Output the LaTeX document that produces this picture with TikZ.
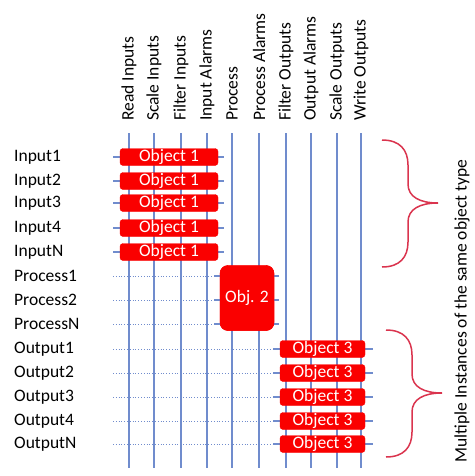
\documentclass[tikz,border=0pt]{standalone}
\usepackage{fontspec}
\setmainfont{Carlito}
\begin{document}
\begin{tikzpicture}[x=1pt,y=-1pt,
  lbl/.style={inner sep=0pt,font=\fontsize{17.5}{21}\selectfont},
  gridv/.style={draw=gridblue,line width=1.2pt},
  gridh/.style={draw=gridblue,line width=0.8pt,dotted},
  stub/.style={draw=gridblue,line width=1.2pt},
  objbox/.style={fill=objred,draw=objred,rounded corners=3pt,text=white,inner sep=0pt,
    font=\fontsize{17.5}{21}\selectfont},
  bracestyle/.style={draw=bracered,line width=1.5pt}]
\definecolor{gridblue}{RGB}{112,140,205}
\definecolor{objred}{RGB}{250,0,0}
\definecolor{bracered}{RGB}{218,52,78}
\useasboundingbox (0,0) rectangle (474,476);
% columns
\foreach \x/\t [count=\i] in {129/Read Inputs,154/Scale Inputs,181/Filter Inputs,207/Input Alarms,232/Process,259/Process Alarms,286/Filter Outputs,311/Output Alarms,337/Scale Outputs,361/Write Outputs}{
  \node[lbl,rotate=90,anchor=west] (h\i) at (\x,121) {\t};
  \coordinate (vt\i) at (\x,133);
  \coordinate (vb\i) at (\x,468);
  \draw[gridv] (vt\i) -- (vb\i);
}
% input rows
\foreach \y/\t [count=\i] in {157/Input1,181/Input2,203/Input3,228/Input4,252/InputN}{
  \node[lbl,anchor=west] (in\i) at (14,\y) {\t};
  \coordinate (inl\i) at (113,\y);
  \coordinate (inr\i) at (224,\y);
  \draw[stub] (inl\i) -- (inr\i);
  \node[objbox,minimum width=98pt,minimum height=17pt] (o1\i) at (169,\y) {Object 1};
}
% process rows
\node[objbox,rounded corners=8pt,minimum width=54pt,minimum height=65pt] (o2) at (247,298) {Obj. 2};
\foreach \y/\t [count=\i] in {276/Process1,300/Process2,324/ProcessN}{
  \node[lbl,anchor=west] (pr\i) at (14,\y) {\t};
  \coordinate (prl\i) at (113,\y);
  \coordinate (prm\i) at (214,\y);
  \coordinate (prr\i) at (279,\y);
  \draw[gridh] (prl\i) -- (prm\i);
  \draw[stub] (prm\i) -- (o2.west |- prm\i);
  \draw[stub] (o2.east |- prr\i) -- (prr\i);
}
\node[objbox,rounded corners=8pt,minimum width=54pt,minimum height=65pt] at (247,298) {Obj. 2};
% output rows
\foreach \y/\t [count=\i] in {349/Output1,373/Output2,397/Output3,421/Output4,444/OutputN}{
  \node[lbl,anchor=west] (ou\i) at (14,\y) {\t};
  \coordinate (oul\i) at (113,\y);
  \coordinate (oum\i) at (273,\y);
  \coordinate (our\i) at (373,\y);
  \draw[gridh] (oul\i) -- (oum\i);
  \draw[stub] (oum\i) -- (our\i);
  \node[objbox,minimum width=85pt,minimum height=17pt] (o3\i) at (322.5,\y) {Object 3};
}
% braces
\draw[bracestyle] (382,140) .. controls (400,140) and (408,150) .. (408,165) -- (408,184)
  .. controls (408,197) and (420,203) .. (438,203)
  .. controls (420,203) and (408,209) .. (408,222) -- (408,242)
  .. controls (408,257) and (400,267) .. (382,267);
\draw[bracestyle] (386,330) .. controls (404,330) and (412,340) .. (412,355) -- (412,374)
  .. controls (412,387) and (424,393) .. (442,393)
  .. controls (424,393) and (412,399) .. (412,412) -- (412,432)
  .. controls (412,447) and (404,457) .. (386,457);
\node[lbl,rotate=90] (side) at (462,311) {Multiple Instances of the same object type};
\end{tikzpicture}
\end{document}
